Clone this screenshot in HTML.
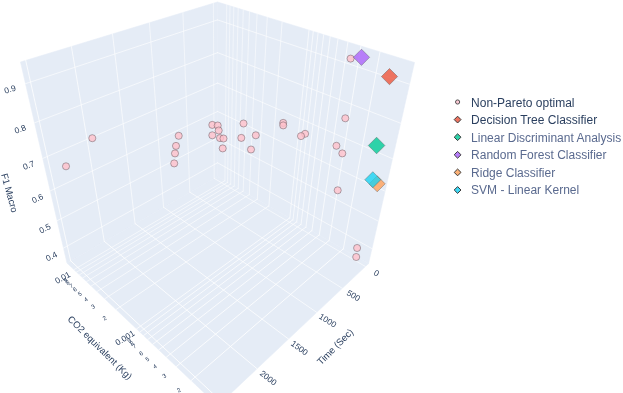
<!DOCTYPE html><html><head><meta charset="utf-8"><style>html,body{margin:0;padding:0;background:#fff}body{width:623px;height:393px;overflow:hidden;position:relative}</style></head><body>
<svg width="623" height="393" viewBox="0 0 623 393" style="position:absolute;left:0;top:0">
<g fill="#e5ecf6" stroke="#e5ecf6" stroke-width="0.6">
<polygon points="217.5,176.5 67.0,263.1 20.5,62.0 217.5,2.0"/>
<polygon points="217.5,176.5 368.5,263.6 414.5,62.5 217.5,2.0"/>
<polygon points="217.5,176.5 67.0,263.1 217.8,405.7 368.5,263.6"/>
</g>
<g stroke="#fff" stroke-linecap="round" fill="none">
<line x1="214.2" y1="178.4" x2="213.4" y2="3.2" stroke-width="0.46"/>
<line x1="214.2" y1="178.4" x2="365.4" y2="266.5" stroke-width="0.57"/>
<line x1="189.8" y1="192.4" x2="182.9" y2="12.5" stroke-width="0.52"/>
<line x1="190.0" y1="192.3" x2="342.3" y2="288.3" stroke-width="0.63"/>
<line x1="163.6" y1="207.5" x2="149.4" y2="22.7" stroke-width="0.58"/>
<line x1="163.8" y1="207.4" x2="316.8" y2="312.4" stroke-width="0.69"/>
<line x1="135.1" y1="223.9" x2="112.5" y2="34.0" stroke-width="0.65"/>
<line x1="135.4" y1="223.8" x2="288.5" y2="339.0" stroke-width="0.76"/>
<line x1="104.3" y1="241.6" x2="71.4" y2="46.5" stroke-width="0.71"/>
<line x1="104.5" y1="241.5" x2="257.0" y2="368.7" stroke-width="0.82"/>
<line x1="70.7" y1="261.0" x2="25.7" y2="60.4" stroke-width="0.77"/>
<line x1="70.8" y1="260.9" x2="221.8" y2="401.9" stroke-width="0.88"/>
<line x1="224.9" y1="180.8" x2="226.7" y2="4.8" stroke-width="0.47"/>
<line x1="224.9" y1="180.7" x2="73.9" y2="269.7" stroke-width="0.58"/>
<line x1="227.6" y1="182.3" x2="230.0" y2="5.9" stroke-width="0.48"/>
<line x1="227.6" y1="182.3" x2="76.5" y2="272.1" stroke-width="0.59"/>
<line x1="230.7" y1="184.1" x2="233.8" y2="7.0" stroke-width="0.48"/>
<line x1="230.6" y1="184.1" x2="79.4" y2="274.8" stroke-width="0.59"/>
<line x1="234.2" y1="186.1" x2="238.2" y2="8.4" stroke-width="0.49"/>
<line x1="234.1" y1="186.1" x2="82.7" y2="277.9" stroke-width="0.60"/>
<line x1="238.3" y1="188.5" x2="243.3" y2="9.9" stroke-width="0.50"/>
<line x1="238.1" y1="188.4" x2="86.6" y2="281.6" stroke-width="0.61"/>
<line x1="243.2" y1="191.3" x2="249.5" y2="11.8" stroke-width="0.52"/>
<line x1="243.0" y1="191.2" x2="91.2" y2="286.0" stroke-width="0.63"/>
<line x1="249.3" y1="194.8" x2="257.1" y2="14.2" stroke-width="0.53"/>
<line x1="249.1" y1="194.7" x2="97.1" y2="291.5" stroke-width="0.64"/>
<line x1="257.3" y1="199.5" x2="267.3" y2="17.3" stroke-width="0.55"/>
<line x1="257.1" y1="199.3" x2="104.8" y2="298.8" stroke-width="0.66"/>
<line x1="268.9" y1="206.2" x2="282.1" y2="21.9" stroke-width="0.58"/>
<line x1="268.7" y1="206.0" x2="116.1" y2="309.5" stroke-width="0.69"/>
<line x1="289.8" y1="218.2" x2="309.0" y2="30.1" stroke-width="0.63"/>
<line x1="289.5" y1="218.0" x2="136.6" y2="328.9" stroke-width="0.74"/>
<line x1="293.0" y1="220.1" x2="313.3" y2="31.4" stroke-width="0.63"/>
<line x1="292.7" y1="219.9" x2="139.9" y2="332.0" stroke-width="0.74"/>
<line x1="296.7" y1="222.2" x2="318.1" y2="32.9" stroke-width="0.64"/>
<line x1="296.4" y1="222.0" x2="143.6" y2="335.5" stroke-width="0.75"/>
<line x1="301.0" y1="224.7" x2="323.7" y2="34.6" stroke-width="0.65"/>
<line x1="300.7" y1="224.5" x2="147.8" y2="339.5" stroke-width="0.76"/>
<line x1="305.9" y1="227.5" x2="330.2" y2="36.6" stroke-width="0.66"/>
<line x1="305.6" y1="227.3" x2="152.8" y2="344.2" stroke-width="0.77"/>
<line x1="311.9" y1="230.9" x2="338.0" y2="39.0" stroke-width="0.67"/>
<line x1="311.6" y1="230.8" x2="158.8" y2="349.9" stroke-width="0.78"/>
<line x1="319.3" y1="235.2" x2="347.9" y2="42.0" stroke-width="0.69"/>
<line x1="319.0" y1="235.1" x2="166.4" y2="357.1" stroke-width="0.80"/>
<line x1="329.1" y1="240.9" x2="360.9" y2="46.0" stroke-width="0.71"/>
<line x1="328.8" y1="240.7" x2="176.4" y2="366.5" stroke-width="0.82"/>
<line x1="343.3" y1="249.1" x2="380.0" y2="51.9" stroke-width="0.73"/>
<line x1="343.1" y1="249.0" x2="191.2" y2="380.5" stroke-width="0.84"/>
<line x1="217.5" y1="162.8" x2="63.5" y2="248.1" stroke-width="0.61"/>
<line x1="217.5" y1="162.8" x2="371.9" y2="248.6" stroke-width="0.61"/>
<line x1="217.5" y1="138.0" x2="57.2" y2="220.7" stroke-width="0.61"/>
<line x1="217.5" y1="137.9" x2="378.2" y2="221.1" stroke-width="0.61"/>
<line x1="217.5" y1="111.5" x2="50.3" y2="190.9" stroke-width="0.61"/>
<line x1="217.5" y1="111.4" x2="385.1" y2="191.2" stroke-width="0.61"/>
<line x1="217.5" y1="83.1" x2="42.8" y2="158.4" stroke-width="0.61"/>
<line x1="217.5" y1="83.0" x2="392.5" y2="158.7" stroke-width="0.61"/>
<line x1="217.5" y1="52.7" x2="34.6" y2="122.8" stroke-width="0.61"/>
<line x1="217.5" y1="52.6" x2="400.6" y2="123.2" stroke-width="0.61"/>
<line x1="217.5" y1="19.9" x2="25.5" y2="83.7" stroke-width="0.61"/>
<line x1="217.5" y1="19.9" x2="409.5" y2="84.2" stroke-width="0.61"/>
</g>
<g fill="rgb(255,192,203)" fill-opacity="0.8" stroke="#554a50" stroke-opacity="0.8" stroke-width="0.55">
<circle cx="66.0" cy="166.3" r="3.55"/>
<circle cx="92.3" cy="138.2" r="3.55"/>
<circle cx="178.7" cy="135.8" r="3.55"/>
<circle cx="176.0" cy="145.9" r="3.55"/>
<circle cx="175.0" cy="153.4" r="3.55"/>
<circle cx="174.2" cy="163.4" r="3.55"/>
<circle cx="212.3" cy="124.9" r="3.55"/>
<circle cx="217.7" cy="125.5" r="3.55"/>
<circle cx="218.7" cy="130.5" r="3.55"/>
<circle cx="212.3" cy="135.3" r="3.55"/>
<circle cx="220.0" cy="138.1" r="3.55"/>
<circle cx="223.5" cy="138.5" r="3.55"/>
<circle cx="222.7" cy="148.4" r="3.55"/>
<circle cx="243.5" cy="123.5" r="3.55"/>
<circle cx="241.3" cy="137.9" r="3.55"/>
<circle cx="255.8" cy="135.3" r="3.55"/>
<circle cx="251.0" cy="149.5" r="3.55"/>
<circle cx="283.2" cy="122.9" r="3.55"/>
<circle cx="283.2" cy="125.4" r="3.55"/>
<circle cx="305.1" cy="133.8" r="3.55"/>
<circle cx="301.0" cy="136.1" r="3.55"/>
<circle cx="345.3" cy="118.3" r="3.55"/>
<circle cx="336.4" cy="145.8" r="3.55"/>
<circle cx="342.3" cy="153.4" r="3.55"/>
<circle cx="337.7" cy="190.3" r="3.55"/>
<circle cx="350.6" cy="58.6" r="3.55"/>
<circle cx="357.1" cy="248.0" r="3.55"/>
<circle cx="356.2" cy="257.0" r="3.55"/>
</g>
<g stroke="#555" stroke-opacity="0.8" stroke-width="0.5" stroke-linejoin="miter" fill-opacity="0.8">
<polygon points="377.2,175.8 385.2,183.8 377.2,191.8 369.2,183.8" fill="#FFA15A"/>
<polygon points="372.8,171.7 380.8,179.7 372.8,187.7 364.8,179.7" fill="#19d3f3"/>
<polygon points="376.6,137.2 384.9,145.5 376.6,153.8 368.3,145.5" fill="#00cc96"/>
<polygon points="361.5,49.2 369.6,57.3 361.5,65.4 353.4,57.3" fill="#ab63fa"/>
<polygon points="389.5,68.5 397.6,76.6 389.5,84.7 381.4,76.6" fill="#EF553B"/>
</g>
<g font-family="Liberation Sans, Arial, sans-serif" fill="#2a3f5f" text-anchor="middle">
<text transform="translate(10.0,89.2) rotate(-17.0)" font-size="8.4" dy="0.35em">0.9</text>
<text transform="translate(20.1,129.1) rotate(-20.0)" font-size="8.4" dy="0.35em">0.8</text>
<text transform="translate(28.6,165.1) rotate(-21.0)" font-size="8.4" dy="0.35em">0.7</text>
<text transform="translate(37.5,198.3) rotate(-25.0)" font-size="8.4" dy="0.35em">0.6</text>
<text transform="translate(44.8,228.4) rotate(-27.0)" font-size="8.4" dy="0.35em">0.5</text>
<text transform="translate(51.5,256.3) rotate(-26.0)" font-size="8.4" dy="0.35em">0.4</text>
<text transform="translate(9.6,192.9) rotate(74.5)" font-size="9.5" dy="0.35em">F1 Macro</text>
<text transform="translate(100.0,347.6) rotate(44.8)" font-size="9.5" dy="0.35em">CO2 equivalent (Kg)</text>
<text transform="translate(335.1,346.7) rotate(-45.0)" font-size="9.6" dy="0.35em">Time (Sec)</text>
<text transform="translate(376.5,273.2) rotate(30.0)" font-size="8.4" dy="0.35em">0</text>
<text transform="translate(353.6,295.5) rotate(31.0)" font-size="8.4" dy="0.35em">500</text>
<text transform="translate(327.8,320.5) rotate(32.0)" font-size="8.4" dy="0.35em">1000</text>
<text transform="translate(299.4,347.8) rotate(36.0)" font-size="8.4" dy="0.35em">1500</text>
<text transform="translate(268.3,377.8) rotate(38.0)" font-size="8.4" dy="0.35em">2000</text>
<text transform="translate(62.6,277.5) rotate(-29.0)" font-size="8.4" dy="0.35em">0.01</text>
<text transform="translate(124.9,337.8) rotate(-32.0)" font-size="8.4" dy="0.35em">0.001</text>
<text transform="translate(65.4,280.0) rotate(-32.0)" font-size="6.0" dy="0.35em">9</text>
<text transform="translate(67.6,282.4) rotate(-32.0)" font-size="6.0" dy="0.35em">8</text>
<text transform="translate(71.3,285.9) rotate(-32.0)" font-size="6.0" dy="0.35em">7</text>
<text transform="translate(74.8,289.3) rotate(-32.0)" font-size="6.0" dy="0.35em">6</text>
<text transform="translate(79.8,293.9) rotate(-32.0)" font-size="6.0" dy="0.35em">5</text>
<text transform="translate(85.9,299.3) rotate(-32.0)" font-size="6.0" dy="0.35em">4</text>
<text transform="translate(93.0,306.5) rotate(-32.0)" font-size="6.0" dy="0.35em">3</text>
<text transform="translate(104.5,318.1) rotate(-32.0)" font-size="6.0" dy="0.35em">2</text>
<text transform="translate(129.3,340.6) rotate(-32.0)" font-size="6.0" dy="0.35em">9</text>
<text transform="translate(131.8,343.4) rotate(-32.0)" font-size="6.0" dy="0.35em">8</text>
<text transform="translate(134.4,346.1) rotate(-32.0)" font-size="6.0" dy="0.35em">7</text>
<text transform="translate(141.1,353.4) rotate(-32.0)" font-size="6.0" dy="0.35em">6</text>
<text transform="translate(147.2,359.0) rotate(-32.0)" font-size="6.0" dy="0.35em">5</text>
<text transform="translate(154.9,366.3) rotate(-32.0)" font-size="6.0" dy="0.35em">4</text>
<text transform="translate(164.2,375.8) rotate(-32.0)" font-size="6.0" dy="0.35em">3</text>
<text transform="translate(178.8,390.2) rotate(-32.0)" font-size="6.0" dy="0.35em">2</text>
</g>
<g font-family="Liberation Sans, Arial, sans-serif" font-size="12">
<circle cx="457.6" cy="102.0" r="2.1" fill="rgb(250,201,212)" stroke="#444" stroke-width="0.9"/>
<text x="471.1" y="106.5" fill="#2a3f5f">Non-Pareto optimal</text>
<polygon points="457.6,116.2 461.0,119.6 457.6,123.0 454.2,119.6" fill="rgb(237,115,96)" stroke="#3a3a3a" stroke-width="1"/>
<text x="471.1" y="124.0" fill="#2a3f5f">Decision Tree Classifier</text>
<polygon points="457.6,133.8 461.0,137.2 457.6,140.6 454.2,137.2" fill="rgb(46,210,169)" stroke="#3a3a3a" stroke-width="1"/>
<text x="471.1" y="141.6" fill="#5a6a8f">Linear Discriminant Analysis</text>
<polygon points="457.6,151.4 461.0,154.8 457.6,158.2 454.2,154.8" fill="rgb(183,126,249)" stroke="#3a3a3a" stroke-width="1"/>
<text x="471.1" y="159.2" fill="#5a6a8f">Random Forest Classifier</text>
<polygon points="457.6,169.0 461.0,172.4 457.6,175.8 454.2,172.4" fill="rgb(250,176,118)" stroke="#3a3a3a" stroke-width="1"/>
<text x="471.1" y="176.7" fill="#5a6a8f">Ridge Classifier</text>
<polygon points="457.6,186.6 461.0,190.0 457.6,193.4 454.2,190.0" fill="rgb(64,216,244)" stroke="#3a3a3a" stroke-width="1"/>
<text x="471.1" y="194.2" fill="#5a6a8f">SVM - Linear Kernel</text>
</g>
</svg>
</body></html>
